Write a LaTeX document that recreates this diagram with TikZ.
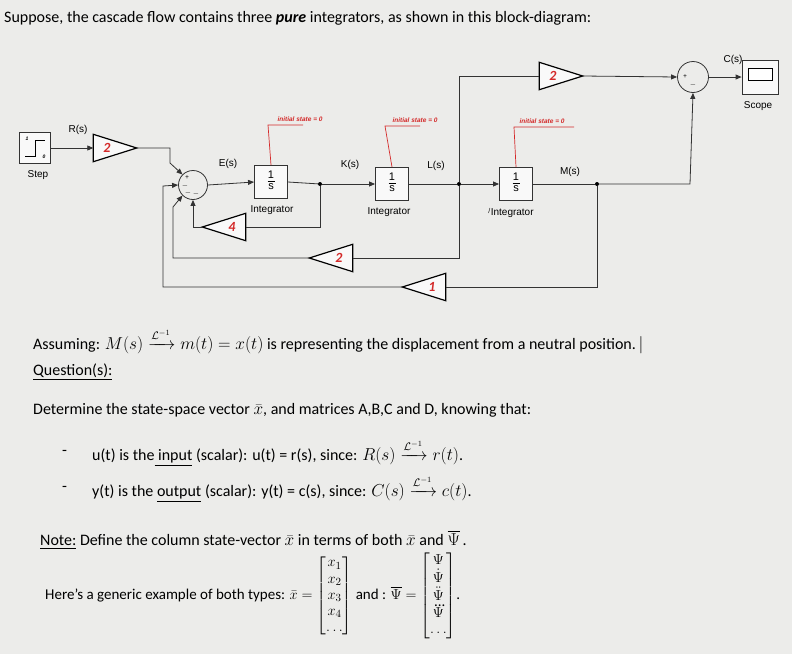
\documentclass[tikz,border=0pt]{standalone}
\usepackage{amsmath}
\usepackage{fontspec}
\setmainfont{Carlito}
\newfontfamily\diag{Liberation Sans}
\usetikzlibrary{arrows.meta,shapes.geometric,calc}
\definecolor{bg}{HTML}{ECECEA}
\definecolor{sred}{HTML}{D42A2A}
\tikzset{
  wire/.style={draw=black!80,line width=0.8pt},
  sig/.style={wire,-{Triangle[length=6pt,width=5pt]}},
  intblk/.style={draw=black!80,line width=0.9pt,fill=white!95!gray,minimum width=33pt,minimum height=33pt,inner sep=0pt,font=\diag\fontsize{11}{11}\selectfont},
  gainbox/.style={rectangle,minimum width=43pt,minimum height=27pt,inner sep=0pt},
  gtri/.style={draw=black,line width=1.2pt,fill=white!95!gray,line join=miter},
  gnum/.style={font=\bfseries\itshape\fontsize{14}{14}\selectfont,text=sred,inner sep=0pt},
  sumblk/.style={circle,draw=black!80,line width=0.8pt,minimum size=29pt,inner sep=0pt},
  lbl/.style={font=\diag\fontsize{10}{10}\selectfont},
  init/.style={font=\diag\bfseries\itshape\fontsize{6.5}{6.5}\selectfont,text=sred},
  redl/.style={draw=sred,line width=0.7pt},
  dot/.style={circle,fill=black,inner sep=0pt,minimum size=4pt},
  txt/.style={anchor=west,font=\fontsize{16}{18}\selectfont,inner sep=0pt}
}
\newcommand{\ovs}{\begin{tabular}{@{}c@{}}1\\[-8pt]\rule{7pt}{0.6pt}\\[-3pt]s\end{tabular}}
\newcommand{\gainR}[3]{\node[gainbox] (#1) at (#2) {};
  \draw[gtri] (#1.north west) -- (#1.east) -- (#1.south west) -- cycle;
  \node[gnum] at ($(#1.center)+(-8,0)$) {#3};}
\newcommand{\gainL}[3]{\node[gainbox] (#1) at (#2) {};
  \draw[gtri] (#1.north east) -- (#1.west) -- (#1.south east) -- cycle;
  \node[gnum] at ($(#1.center)+(8,0)$) {#3};}
\begin{document}
\begin{tikzpicture}[x=1pt,y=-1pt]
\fill[bg] (0,0) rectangle (792,654);
\useasboundingbox (0,0) rectangle (792,654);
\node[txt] (title) at (4,18) {Suppose, the cascade flow contains three \textbf{\textit{pure}} integrators, as shown in this block-diagram:};

% step
\node[draw=black!80,line width=0.8pt,fill=white!95!gray,minimum size=31pt,inner sep=0pt] (step) at (35,148) {};
\draw[line width=0.8pt] ($(step.center)+(-10,8)$) -- ++(10,0) -- ++(0,-16) -- ++(10,0);
\node[font=\diag\bfseries\itshape\fontsize{5}{5}\selectfont] at ($(step.center)+(-8,-9)$) {1};
\node[font=\diag\bfseries\itshape\fontsize{5}{5}\selectfont] at ($(step.center)+(9,9)$) {0};
\node[lbl] (steplbl) at (38,175) {Step};
\gainR{g2a}{115,148}{2}
\node[lbl] (rs) at (78,130) {R(s)};
\draw[sig] (step.east) -- (g2a.west);

% sum 1
\node[sumblk] (s1) at (193,185) {};
\node[font=\fontsize{7}{7}\selectfont] at (187,178) {+};
\node[font=\fontsize{7}{7}\selectfont] at (185,186) {$-$};
\node[font=\fontsize{7}{7}\selectfont] at (188,193) {$-$};
\node[font=\fontsize{7}{7}\selectfont] at (196,194) {$-$};
\draw[sig] (g2a.east) -- (170,148) -- (170,163) -- (s1.135);

% integrators
\node[intblk] (i1) at (271,182) {\ovs};
\node[intblk] (i2) at (392,184) {\ovs};
\node[intblk] (i3) at (516,184) {\ovs};
\node[lbl] at (272,210) {Integrator};
\node[lbl] at (389,212) {Integrator};
\node[lbl] at (512,213) {\textsuperscript{\kern-2pt\raisebox{-2pt}{/}}Integrator};
\node[init] (in1) at (300,119) {initial state = 0};
\node[init] (in2) at (415,120) {initial state = 0};
\node[init] (in3) at (542,121) {initial state = 0};
\draw[redl] (i1.north) -- (268,125) -- (303,125);
\draw[redl] (i2.north) -- (385,126) -- (420,126);
\draw[redl] (i3.north) -- (514,127) -- (574,127);

\draw[sig] (s1.east) -- (i1.west);
\node[lbl] (es) at (228,164) {E(s)};
\node[dot] (d1) at (320,184) {};
\node[dot] (d2) at (459,184) {};
\node[dot] (d3) at (597,184) {};
\draw[wire] (i1.east) -- (d1);
\draw[sig] (d1) -- (i2.west);
\node[lbl] (ks) at (350,165) {K(s)};
\draw[wire] (i2.east) -- (d2);
\draw[sig] (d2) -- (i3.west);
\node[lbl] (ls) at (436,166) {L(s)};
\draw[wire] (i3.east) -- (d3);
\node[lbl] (ms) at (570,172) {M(s)};

% feedback 4
\gainL{g4}{224,227}{4}
\draw[wire] (d1) -- (320,227) -- (g4.east);
\draw[sig] (g4.west) -- (193,227) -- (s1.south);
% feedback 2
\gainL{g2b}{331,258}{2}
\draw[wire] (d2) -- (459,258) -- (g2b.east);
\draw[sig] (g2b.west) -- (173,258) -- (173,207) -- (s1.225);
% feedback 1
\gainL{g1}{424,287}{1}
\draw[wire] (d3) -- (597,287) -- (g1.east);
\draw[sig] (g1.west) -- (163,287) -- (163,186) -- (s1.west);

% top path
\gainR{g2c}{561,76}{2}
\node[sumblk,minimum size=31pt] (s2) at (693,77) {};
\node[font=\fontsize{7}{7}\selectfont] at (685,77) {+};
\node[font=\fontsize{7}{7}\selectfont] at (693,85) {$-$};
\draw[wire] (d2) -- (459,76) -- (g2c.west);
\draw[sig] (g2c.east) -- (s2.west);
\draw[sig] (d3) -- (690,184) -- (s2.south);
\node[draw=black!80,line width=0.8pt,fill=white!95!gray,minimum width=36pt,minimum height=34pt] (scope) at (760,77) {};
\draw[line width=0.8pt,fill=white] (748,68) rectangle (772,80);
\node[lbl] at (758,106) {Scope};
\draw[sig] (s2.east) -- (scope.west);
\node[lbl] (cs) at (733,60) {C(s)};

% text
\node[txt] (t1) at (33,341) {Assuming: $M(s)\xrightarrow{\mathcal{L}^{-1}} m(t)=x(t)$ is representing the displacement from a neutral position.\,$|$};
\node[txt] (t2) at (33,372) {\underline{Question(s):}};
\node[txt] (t3) at (33,410) {Determine the state-space vector $\bar{x}$, and matrices A,B,C and D, knowing that:};
\node[txt] (b1) at (62,453) {-};
\node[txt] (b2) at (62,489) {-};
\node[txt] (t4) at (92,453) {u(t) is the\underline{ input} (scalar): u(t) = r(s), since: $R(s)\xrightarrow{\mathcal{L}^{-1}} r(t)$.};
\node[txt] (t5) at (92,489) {y(t) is the \underline{output} (scalar): y(t) = c(s), since: $C(s)\xrightarrow{\mathcal{L}^{-1}} c(t)$.};
\node[txt] (t6) at (40,540) {\underline{Note:} Define the column state-vector $\bar{x}$ in terms of both $\bar{x}$ and $\overline{\Psi}$\,.};
\node[txt,font=\fontsize{15}{17}\selectfont] (t7) at (45,596) {\renewcommand{\arraystretch}{0.95}Here’s a generic example of both types: $\bar{x}=\begin{bmatrix}x_1\\x_2\\x_3\\x_4\\\dots\end{bmatrix}$ and : $\overline{\Psi}=\begin{bmatrix}\Psi\\\dot\Psi\\\ddot\Psi\\\dddot\Psi\\\dots\end{bmatrix}$.};
\end{tikzpicture}
\end{document}
